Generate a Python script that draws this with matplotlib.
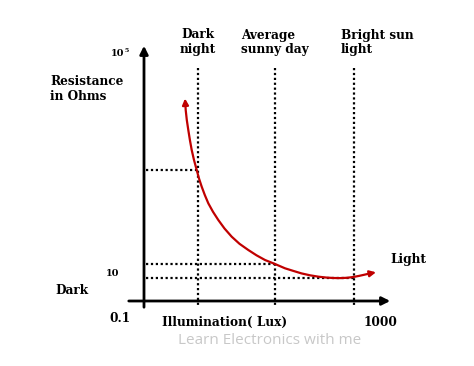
import matplotlib
matplotlib.use("Agg")
import matplotlib.pyplot as plt

# schematic (pixel-like units, y grows downward)
curve_x = [185.3, 185.7, 186.8, 188.3, 189.9, 191.7, 194.0, 196.7, 199.0, 201.7, 204.8,
           208.3, 213.0, 218.3, 224.5, 231.7, 239.5, 248.3, 256.5, 265.0, 275.0, 285.0,
           293.3, 301.5, 310.0, 318.5, 326.7, 333.5, 340.0, 347.0, 353.3, 359.0, 364.0,
           368.0]
curve_y = [103.0, 110.0, 120.0, 130.0, 140.0, 150.0, 160.0, 170.0, 178.5, 186.7, 195.0,
           203.3, 211.8, 220.0, 228.5, 236.7, 243.8, 250.0, 255.3, 260.0, 264.0, 268.3,
           270.9, 273.4, 275.3, 276.7, 277.6, 278.0, 278.1, 277.8, 277.0, 275.9, 274.8,
           273.9]

guide_x = [198, 275, 354]          # dark night, average sunny day, bright sun light
guide_y = [170, 264, 278]          # resistance levels hit by the curve
guide_stop = [198, 275, 354]       # where each horizontal guide ends

top_labels = ["Dark\nnight", "Average\nsunny day", "Bright sun\nlight"]
top_label_x = [198, 241, 341]
top_label_ha = ["center", "left", "left"]

fig = plt.figure(figsize=(4.74, 3.66), dpi=100)
ax = fig.add_axes([0, 0, 1, 1])
ax.set_xlim(0, 474)
ax.set_ylim(366, 0)
ax.axis("off")

bold = dict(family="DejaVu Serif", fontweight="bold", color="black")

# axes with arrows
ax.annotate("", xy=(144, 43), xytext=(144, 310),
            arrowprops=dict(arrowstyle="-|>", lw=2, color="black", mutation_scale=12))
ax.annotate("", xy=(393, 301), xytext=(126, 301),
            arrowprops=dict(arrowstyle="-|>", lw=2, color="black", mutation_scale=12))

# dotted guides
for gx in guide_x:
    ax.plot([gx, gx], [68, 305], color="black", lw=1.6, linestyle=(0, (1, 1.2)))
for gy, gs in zip(guide_y, guide_stop):
    ax.plot([146, gs], [gy, gy], color="black", lw=1.6, linestyle=(0, (1, 1.2)))

# the curve with arrowheads at both ends
red = "#c00000"
ax.plot(curve_x, curve_y, color=red, lw=1.6, solid_capstyle="round",
        solid_joinstyle="round")
ax.annotate("", xy=(185.0, 98.5), xytext=(curve_x[0], curve_y[0]),
            arrowprops=dict(arrowstyle="-|>", lw=1.6, color=red, mutation_scale=9,
                            shrinkA=0, shrinkB=0))
ax.annotate("", xy=(376.0, 272.3), xytext=(curve_x[-1], curve_y[-1]),
            arrowprops=dict(arrowstyle="-|>", lw=1.6, color=red, mutation_scale=9,
                            shrinkA=0, shrinkB=0))

# labels
fs = 8.7
for lbl, lx, ha in zip(top_labels, top_label_x, top_label_ha):
    ax.text(lx, 42, lbl, ha=ha, va="center", fontsize=fs, linespacing=1.1, **bold)

ax.text(124, 53, "10", ha="right", va="center", fontsize=7, **bold)
ax.text(124.5, 50, "5", ha="left", va="center", fontsize=4.5, **bold)
ax.text(50, 89, "Resistance\nin Ohms", ha="left", va="center", fontsize=fs,
        linespacing=1.25, **bold)
ax.text(119, 273, "10", ha="right", va="center", fontsize=7, **bold)
ax.text(55, 291, "Dark", ha="left", va="center", fontsize=fs, **bold)
ax.text(390, 260, "Light", ha="left", va="center", fontsize=fs, **bold)
ax.text(131, 319, "0.1", ha="right", va="center", fontsize=fs, **bold)
ax.text(162, 322, "Illumination( Lux)", ha="left", va="center", fontsize=fs, **bold)
ax.text(397, 322, "1000", ha="right", va="center", fontsize=fs, **bold)

ax.text(270, 341, "Learn Electronics with me", ha="center", va="center",
        fontsize=11, family="Open Sans", color="#c8c8c8")

fig.savefig("out.png", dpi=100)
